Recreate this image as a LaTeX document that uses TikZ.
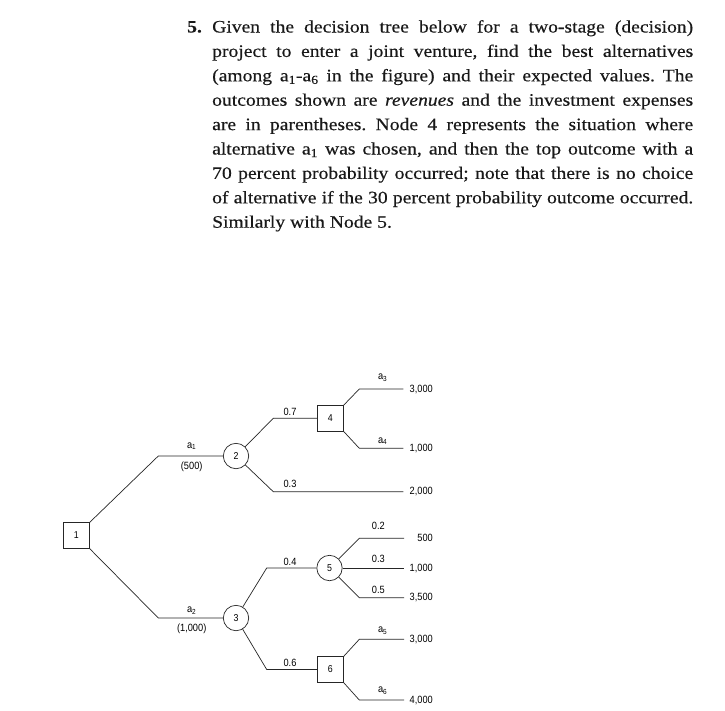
\documentclass[tikz,border=0pt]{standalone}
\usepackage{fontspec}
\setmainfont{Liberation Serif}
\newfontfamily\qfont[FakeStretch=1.12,FakeBold=0.35]{Liberation Serif}
\newfontfamily\dfont[FakeStretch=0.88]{Liberation Sans}
\newcommand\qline[1]{\makebox[481pt][s]{#1}}
\frenchspacing
\begin{document}
\begin{tikzpicture}[x=1pt,y=-1pt,
  qtext/.style={anchor=base west, inner sep=0pt, font=\qfont\fontsize{17.5}{24.4}\selectfont, text=black!90},
  decbox/.style={draw=black!85, line width=0.7pt, minimum width=26pt, minimum height=25.5pt, inner sep=0pt, font=\dfont\fontsize{10}{11}\selectfont},
  chance/.style={draw=black!85, line width=0.7pt, circle, minimum size=25.4pt, inner sep=0pt, font=\dfont\fontsize{10}{11}\selectfont},
  lbl/.style={inner sep=0pt, font=\dfont\fontsize{10.5}{12}\selectfont},
  val/.style={lbl, anchor=east},
  branch/.style={draw=black!85, line width=0.7pt}
]
\useasboundingbox[fill=white] (0,0) rectangle (725,710);

% problem text
\node[qtext] (num) at (187,32.5) {\bfseries 5.};
\node[qtext] (t1) at (212,32.5) {\qline{Given the decision tree below for a two-stage (decision)}};
\node[qtext] (t2) at (212,56.9) {\qline{project to enter a joint venture, find the best alternatives}};
\node[qtext] (t3) at (212,81.3) {\qline{(among a\textsubscript{1}-a\textsubscript{6} in the figure) and their expected values. The}};
\node[qtext] (t4) at (212,105.7) {\qline{outcomes shown are \textit{revenues} and the investment expenses}};
\node[qtext] (t5) at (212,130.1) {\qline{are in parentheses. Node 4 represents the situation where}};
\node[qtext] (t6) at (212,154.5) {\qline{alternative a\textsubscript{1} was chosen, and then the top outcome with a}};
\node[qtext] (t7) at (212,178.9) {\qline{70 percent probability occurred; note that there is no choice}};
\node[qtext] (t8) at (212,203.3) {\qline{of alternative if the 30 percent probability outcome occurred.}};
\node[qtext] (t9) at (212,227.7) {Similarly with Node 5.};

% tree nodes
\node[decbox] (n1) at (76.3,535.5) {1};
\node[chance] (n2) at (236,456) {2};
\node[chance] (n3) at (236,618) {3};
\node[decbox] (n4) at (330.3,418.3) {4};
\node[chance] (n5) at (329.5,568) {5};
\node[decbox] (n6) at (330.3,669.5) {6};

% bend points and ends
\coordinate (k1u) at (158.3,456);
\coordinate (k1d) at (158.3,618);
\coordinate (k2u) at (273.3,418.3);
\coordinate (k2d) at (273.3,491.7);
\coordinate (e2d) at (403.3,491.7);
\coordinate (k4u) at (359.3,389);
\coordinate (e4u) at (403.3,389);
\coordinate (k4d) at (359.3,448.3);
\coordinate (e4d) at (403.3,448.3);
\coordinate (k3u) at (266.7,568);
\coordinate (k3d) at (266.7,669.5);
\coordinate (k5u) at (359.3,538.3);
\coordinate (e5u) at (404,538.3);
\coordinate (e5m) at (404,568);
\coordinate (k5d) at (359.3,597.7);
\coordinate (e5d) at (404,597.7);
\coordinate (k6u) at (359.3,639.3);
\coordinate (e6u) at (404,639.3);
\coordinate (k6d) at (359.3,700);
\coordinate (e6d) at (404,700);

% branches
\draw[branch] (n1.north east) -- (k1u) -- (n2.west);
\draw[branch] (n1.south east) -- (k1d) -- (n3.west);
\draw[branch] (n2) -- (k2u) -- (n4.west);
\draw[branch] (n2) -- (k2d) -- (e2d);
\draw[branch] (n4.north east) -- (k4u) -- (e4u);
\draw[branch] (n4.south east) -- (k4d) -- (e4d);
\draw[branch] (n3) -- (k3u) -- (n5.west);
\draw[branch] (n3) -- (k3d) -- (n6.west);
\draw[branch] (n5) -- (k5u) -- (e5u);
\draw[branch] (n5.east) -- (e5m);
\draw[branch] (n5) -- (k5d) -- (e5d);
\draw[branch] (n6.north east) -- (k6u) -- (e6u);
\draw[branch] (n6.south east) -- (k6d) -- (e6d);

% branch labels
\node[lbl] (la1) at (191.7,446) {a\textsubscript{1}};
\node[lbl] (lc1) at (191.7,466.5) {(500)};
\node[lbl] (la2) at (191.7,610.5) {a\textsubscript{2}};
\node[lbl] (lc2) at (191.7,628.5) {(1,000)};
\node[lbl] (p07) at (290,412) {0.7};
\node[lbl] (p03a) at (290,483.5) {0.3};
\node[lbl] (p04) at (290,561.5) {0.4};
\node[lbl] (p06) at (290,663) {0.6};
\node[lbl] (la3) at (382.7,377.5) {a\textsubscript{3}};
\node[lbl] (la4) at (382.7,441) {a\textsubscript{4}};
\node[lbl] (p02) at (378.3,526) {0.2};
\node[lbl] (p03b) at (378.3,558.5) {0.3};
\node[lbl] (p05) at (378.3,590) {0.5};
\node[lbl] (la5) at (382.7,630.5) {a\textsubscript{5}};
\node[lbl] (la6) at (382.7,690.5) {a\textsubscript{6}};

% outcome values
\node[val] (v1) at (433,389) {3,000};
\node[val] (v2) at (433,448.3) {1,000};
\node[val] (v3) at (433,491.7) {2,000};
\node[val] (v4) at (433,538.3) {500};
\node[val] (v5) at (433,568) {1,000};
\node[val] (v6) at (433,597.7) {3,500};
\node[val] (v7) at (433,639.3) {3,000};
\node[val] (v8) at (433,700) {4,000};
\end{tikzpicture}
\end{document}
